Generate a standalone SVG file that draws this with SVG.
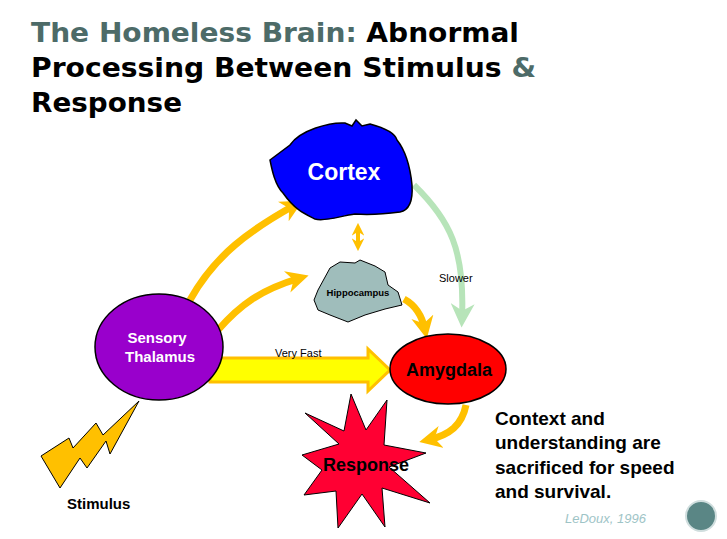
<svg xmlns="http://www.w3.org/2000/svg" width="727" height="539" viewBox="0 0 727 539">
<style>
.t{font-family:"Liberation Sans",Arial,sans-serif;font-weight:bold}
.ttl{font-family:"DejaVu Sans","Liberation Sans",Arial,sans-serif;font-weight:bold;font-size:27px;fill:#000}
.ora{fill:none;stroke:#ffc000;stroke-width:7}
</style>
<defs>
<marker id="ah" viewBox="0 0 10 10" refX="6" refY="5" markerWidth="3.2" markerHeight="3.2" orient="auto-start-reverse" markerUnits="strokeWidth"><path d="M0,0 L10,5 L0,10 L3,5 Z" fill="#ffc000"/></marker>
<marker id="ag" viewBox="0 0 10 10" refX="6" refY="5" markerWidth="4" markerHeight="4" orient="auto" markerUnits="strokeWidth"><path d="M0,0 L10,5 L0,10 L3,5 Z" fill="#b7e4b9"/></marker>
</defs>
<rect width="727" height="539" fill="#fff"/>
<g id="title">
<text class="ttl" x="31" y="42" textLength="488" lengthAdjust="spacingAndGlyphs"><tspan fill="#4d6b68">The Homeless Brain:</tspan> Abnormal</text>
<text class="ttl" x="31" y="77" textLength="505" lengthAdjust="spacingAndGlyphs">Processing Between Stimulus <tspan fill="#4d6b68">&amp;</tspan></text>
<text class="ttl" x="31" y="112" textLength="151" lengthAdjust="spacingAndGlyphs">Response</text>
</g>
<g id="connectors">
<path class="ora" d="M190,300 C215,255 250,230 295,205" marker-end="url(#ah)"/>
<path class="ora" d="M218,330 C240,305 260,290 300,278" marker-end="url(#ah)"/>
<path d="M358,228 L358,246" stroke="#ffc000" stroke-width="4" fill="none" marker-end="url(#ah)" marker-start="url(#ah)"/>
<path class="ora" d="M404,299 C415,305 422,315 425,330" marker-end="url(#ah)"/>
<path d="M414,185 C450,220 465,250 462,318" fill="none" stroke="#b7e4b9" stroke-width="6" marker-end="url(#ag)"/>
<path class="ora" d="M466,405 C462,425 450,435 428,440" marker-end="url(#ah)"/>
<path d="M210,358 L368,358 L368,349 L390,370 L368,391 L368,382 L210,382 Z" fill="#ffff00" stroke="#ffc000" stroke-width="3"/>
<text x="275" y="357" font-family="Liberation Sans,Arial,sans-serif" font-size="11">Very Fast</text>
<text x="439" y="282" font-family="Liberation Sans,Arial,sans-serif" font-size="11">Slower</text>
</g>
<g id="cortex">
<path d="M290,145 C300,130 330,122 345,123 L352,126 L356,120 L362,126 L370,124 C385,128 395,133 397,140 C405,150 410,165 412,185 C413,200 410,210 400,212 C385,214 370,215 355,214 C340,216 325,222 315,219 C305,214 295,210 283,193 C275,185 272,170 270,160 Z" fill="#0000ff" stroke="#000" stroke-width="1.5"/>
<text class="t" x="344" y="180" font-size="23" fill="#fff" text-anchor="middle">Cortex</text>
</g>
<g id="hippocampus">
<path d="M330,268 L340,262 L355,263 L360,260 L375,266 L385,272 L388,285 L398,292 L402,305 L385,309 L365,315 L348,322 L330,315 L318,310 L314,300 L318,290 Z" fill="#9fbdbb" stroke="#000" stroke-width="1"/>
<text class="t" x="358" y="296" font-size="9.5" text-anchor="middle">Hippocampus</text>
</g>
<g id="thalamus">
<ellipse cx="159" cy="347" rx="64" ry="53" fill="#9900cc" stroke="#000" stroke-width="1.5"/>
<text class="t" x="157" y="343" font-size="15" fill="#fff" text-anchor="middle">Sensory</text>
<text class="t" x="160" y="362" font-size="15" fill="#fff" text-anchor="middle">Thalamus</text>
</g>
<g id="amygdala">
<ellipse cx="448" cy="369" rx="58" ry="35" fill="#ff0000" stroke="#000" stroke-width="1.5"/>
<text class="t" x="449" y="376" font-size="18" text-anchor="middle">Amygdala</text>
</g>
<g id="response">
<polygon points="387,400 384,445 426,453 389,467 430,503 382,488 385,527 362,494 338,528 336,491 304,495 322,470 302,455 339,444 305,413 344,431 351,394 366,430" fill="#ff0033" stroke="#000" stroke-width="1"/>
<text class="t" x="366" y="471" font-size="18" text-anchor="middle">Response</text>
</g>
<g id="stimulus">
<polygon points="139,401 110,454 106,441 87,468 80,458 60,488 41,456 69,438 73,448 96,423 103,435" fill="#ffc000" stroke="#000" stroke-width="1"/>
<text class="t" x="67" y="509" font-size="15">Stimulus</text>
</g>
<g id="note">
<text class="t" font-size="19"><tspan x="495" y="425">Context and</tspan><tspan x="495" y="449">understanding are</tspan><tspan x="495" y="474">sacrificed for speed</tspan><tspan x="495" y="498">and survival.</tspan></text>
<text x="565" y="523" font-family="Liberation Sans,Arial,sans-serif" font-style="italic" font-size="13" fill="#9ec4c6">LeDoux, 1996</text>
<circle cx="701" cy="516" r="15" fill="#5a8685" stroke="#d0dede" stroke-width="2"/>
</g>
</svg>
